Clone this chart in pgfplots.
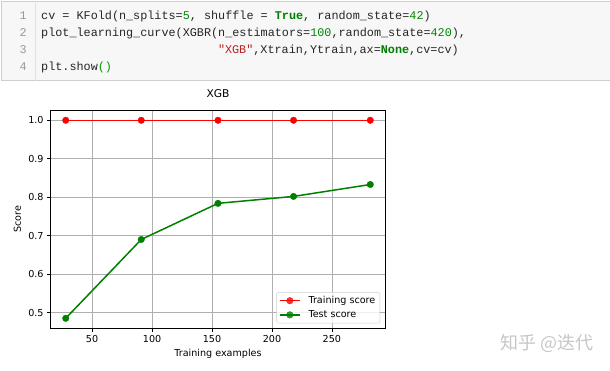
\documentclass[border=0pt]{standalone}
\usepackage{fontspec}
\setmainfont{DejaVu Sans}
\newfontfamily\codefont{Liberation Mono}
\newfontfamily\cjk{Noto Sans CJK SC}
\usepackage{pgfplots}
\pgfplotsset{compat=1.18}
\definecolor{codebg}{HTML}{F7F7F7}
\definecolor{codeborder}{HTML}{CFCFCF}
\definecolor{numgreen}{HTML}{008800}
\definecolor{kwgreen}{HTML}{008000}
\definecolor{strred}{HTML}{BA2121}
\definecolor{linenum}{HTML}{999999}
\definecolor{gridgray}{HTML}{B0B0B0}
\definecolor{legedge}{HTML}{CCCCCC}
\definecolor{mplred}{HTML}{FF0000}
\definecolor{mplgreen}{HTML}{008000}
\newcommand{\cf}{\codefont\fontsize{11.8}{14}\selectfont}
\newcommand{\pf}{\fontsize{9.6}{11}\selectfont}
\begin{document}
\begin{tikzpicture}
\useasboundingbox (0,0) rectangle (610pt,371pt);
\fill[white] (0,0) rectangle (610pt,371pt);
% code cell
\fill[codebg] (1.5pt,369.5pt) rectangle (612pt,290pt);
\draw[codeborder, line width=1pt] (612pt,369.5pt) -- (1.5pt,369.5pt) -- (1.5pt,290pt) -- (612pt,290pt);
\draw[black!12, line width=0.8pt] (35pt,369.5pt) -- (35pt,290pt);
\foreach \n/\y in {1/351,2/334,3/317,4/300}
  \node[anchor=base east, inner sep=0pt, text=linenum] at (27pt,\y pt) {\cf \n};
\node[anchor=base west, inner sep=0pt, text=black!85] at (41pt,351pt) {\cf cv = KFold(n\_splits=\textcolor{numgreen}{5}, shuffle = \textcolor{kwgreen}{\bfseries True}, random\_state=\textcolor{numgreen}{42})};
\node[anchor=base west, inner sep=0pt, text=black!85] at (41pt,334pt) {\cf plot\_learning\_curve(XGBR(n\_estimators=\textcolor{numgreen}{100},random\_state=\textcolor{numgreen}{420}),};
\node[anchor=base west, inner sep=0pt, text=black!85] at (217.8pt,317pt) {\cf \textcolor{strred}{"XGB"},Xtrain,Ytrain,ax=\textcolor{kwgreen}{\bfseries None},cv=cv)};
\node[anchor=base west, inner sep=0pt, text=black!85] at (41pt,300pt) {\cf plt.show\textcolor{green!60!black}{()}};
% watermark
\node[anchor=center, inner sep=0pt, text=black!22] at (547pt,28pt) {\cjk\fontsize{18}{18}\selectfont 知乎 @迭代};
\begin{axis}[
  at={(50.5pt,42.7pt)}, anchor=south west,
  scale only axis, width=335pt, height=218pt,
  xmin=15.3, xmax=294.7, ymin=0.459, ymax=1.026,
  xtick={50,100,150,200,250},
  ytick={0.5,0.6,0.7,0.8,0.9,1.0},
  yticklabel style={/pgf/number format/.cd, fixed, fixed zerofill, precision=1},
  /pgf/number format/assume math mode=true,
  tick label style={font=\pf, text=black},
  grid=major, major grid style={gridgray, line width=0.8pt},
  axis line style={black, line width=0.8pt},
  tick align=outside, tick pos=left, major tick length=3.4pt,
  tick style={black, line width=0.8pt},
  title=XGB, title style={font=\fontsize{10.7}{12}\selectfont, at={(axis description cs:0.5,1.0312)}, anchor=base},
  xlabel=Training examples, xlabel style={font=\pf, at={(axis description cs:0.5,-0.1294)}, anchor=base},
  ylabel=Score, ylabel style={font=\pf, at={(axis description cs:-0.0887,0.5)}, anchor=base},
  legend style={at={(0.9836,0.0229)}, anchor=south east, draw=legedge, rounded corners=2pt,
    fill=white, fill opacity=0.8, text opacity=1, font=\pf, row sep=1.5pt, inner xsep=2.5pt, inner ysep=2pt,
    /tikz/every odd column/.append style={column sep=6pt}},
  legend cell align=left,
  legend image code/.code={\draw[mark repeat=2,mark phase=2] plot coordinates {(0pt,0pt) (10pt,0pt) (20pt,0pt)};},
]
\addplot[mplred, line width=1.5pt, mark=*, mark size=3.3pt, mark options={solid, fill=mplred, draw=mplred, line width=0.3pt}]
  coordinates {(28,1.0) (91,1.0) (155,1.0) (218,1.0) (282,1.0)};
\addlegendentry{Training score}
\addplot[mplgreen, line width=1.5pt, mark=*, mark size=3.3pt, mark options={solid, fill=mplgreen, draw=mplgreen, line width=0.3pt}]
  coordinates {(28,0.485) (91,0.690) (155,0.784) (218,0.802) (282,0.833)};
\addlegendentry{Test score}
\end{axis}
\end{tikzpicture}
\end{document}
